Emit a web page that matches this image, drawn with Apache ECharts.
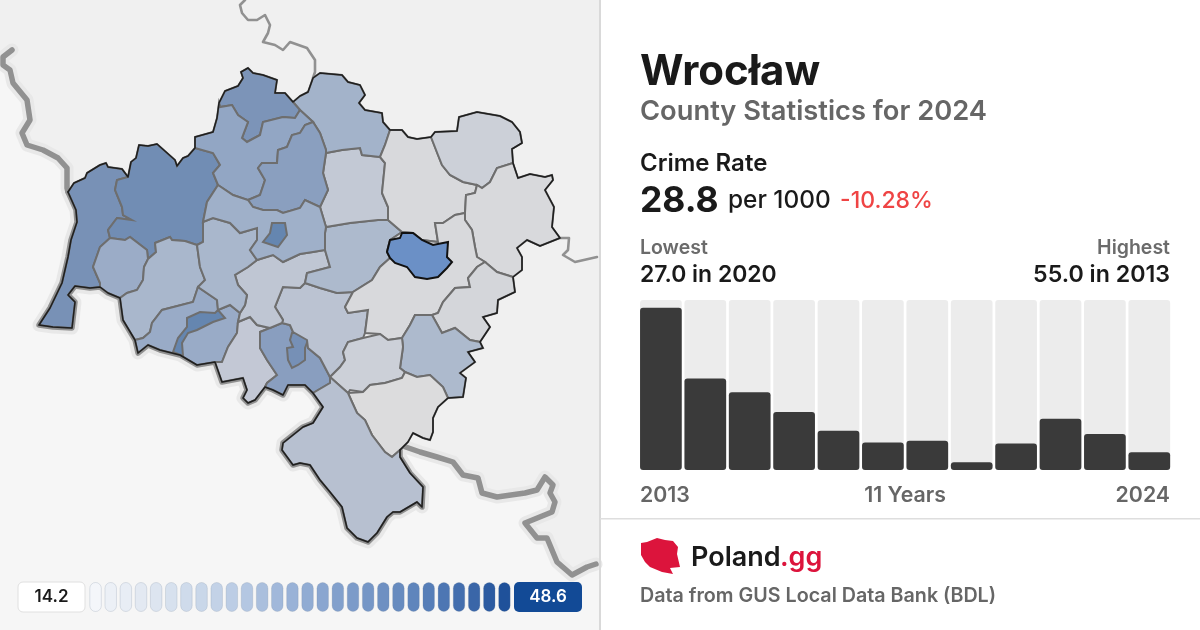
<!DOCTYPE html>
<html>
<head>
<meta charset="utf-8">
<style>
html,body{margin:0;padding:0;background:#fff;}
#main{width:1200px;height:630px;}
</style>
<script src="https://cdn.jsdelivr.net/npm/echarts@6/dist/echarts.min.js"></script>
</head>
<body>
<div id="main"></div>
<script>
var FONT = 'Inter, "Noto Sans", sans-serif';

// yearly crime rate
var years = ['2013','2014','2015','2016','2017','2018','2019','2020','2021','2022','2023','2024'];
var crimeRate = [55.0,42.2,39.7,36.1,32.7,30.6,30.9,27.0,30.4,34.9,32.1,28.8];

// legend ramp
var legendMin = 14.2;
var legendMax = 48.6;
var chipColors = ['#f4f6fa','#ecf0f6','#e8edf5','#e3e9f2','#dde5f0','#d7e1ee','#cfdbeb','#c9d7e9','#c3d2e7','#bccde5','#b4c7e2','#aabfdd','#a1b8da','#99b2d7','#91acd3','#8aa6d0','#82a0cc','#7c9bc9','#7596c6','#6e90c2','#678bbf','#5f85bc','#567eb8','#4d76b3','#436eae','#3a66a8','#2c5ba1','#1f519a'];
var mapRamp = ['#dcdcdd','#d4d6da','#c4c9d5','#adbacd','#96a9c6','#7d94b8','#6485b0'];

// counties, enclaves come after the county around them
var countyNames = ['Zgorzelecki','Bolesławiecki','Lubański','Lwówecki','Karkonoski','Jelenia Góra','Kamiennogórski','Wałbrzyski','Wałbrzych','Świdnicki','Jaworski','Złotoryjski','Średzki','Wołowski','Górowski','Głogowski','Polkowicki','Lubiński','Legnicki','Legnica','Trzebnicki','Milicki','Oleśnicki','Wrocławski','Oławski','Strzeliński','Dzierżoniowski','Ząbkowicki','Kłodzki','Wrocław'];
var countyValues = [44,45.6,36,32.5,36.5,48.4,26,40.2,44.5,28,27,32.5,31.4,25.8,33.8,43,38,40,34.8,48.4,17,22.8,17,17,20,31.4,22.8,14.2,29,28.8];
var countyShapes = [
	[[68,192],[74,183],[85,178],[87,173],[100,165],[106,163],[108,167],[122,169],[128,177],[117,180],[115,190],[122,207],[123,215],[132,220],[117,218],[108,230],[110,238],[100,247],[93,267],[100,283],[100,287],[90,288],[75,286],[68,295],[75,302],[72,328],[53,327],[39,325],[50,308],[62,283],[68,257],[71,240],[77,222],[76,210]],
	[[128,177],[131,162],[136,158],[139,145],[148,146],[157,144],[175,160],[177,166],[183,158],[188,156],[195,148],[213,153],[220,165],[213,173],[218,185],[207,202],[203,222],[203,242],[197,245],[185,241],[172,240],[170,237],[155,243],[156,252],[148,259],[147,250],[130,237],[125,240],[110,238],[108,230],[117,218],[132,220],[123,215],[122,207],[115,190],[117,180]],
	[[110,238],[125,240],[130,237],[147,250],[148,259],[144,267],[143,280],[137,290],[127,293],[120,298],[108,293],[100,287],[100,283],[93,267],[100,247]],
	[[148,259],[156,252],[155,243],[170,237],[172,240],[185,241],[197,245],[200,267],[205,280],[198,287],[193,302],[162,310],[152,323],[150,332],[143,338],[135,340],[123,320],[120,298],[127,293],[137,290],[143,280],[144,267]],
	[[135,340],[143,338],[150,332],[152,323],[162,310],[193,302],[198,287],[217,300],[218,310],[230,305],[240,313],[238,322],[237,333],[228,347],[222,362],[215,362],[197,365],[180,355],[160,350],[148,345],[138,353]],
	[[173,352],[178,338],[187,327],[187,318],[200,312],[215,313],[218,310],[225,318],[213,322],[207,325],[197,330],[188,333],[182,343],[183,356]],
	[[222,362],[228,347],[237,333],[238,322],[250,317],[257,325],[270,328],[260,332],[260,348],[267,360],[277,375],[267,383],[265,387],[255,400],[248,403],[243,398],[247,390],[243,378],[222,382],[215,362]],
	[[260,332],[270,328],[282,323],[290,325],[293,332],[307,340],[308,348],[320,358],[330,377],[330,383],[313,393],[305,385],[288,385],[283,395],[273,390],[265,387],[267,383],[277,375],[267,360],[260,348]],
	[[292,333],[303,333],[308,340],[305,348],[305,360],[298,365],[292,368],[288,360],[287,348],[293,347],[290,340]],
	[[283,287],[300,288],[305,283],[320,288],[337,293],[353,292],[345,307],[348,313],[368,310],[365,333],[363,338],[348,342],[343,352],[345,360],[340,367],[330,377],[320,358],[308,348],[307,340],[293,332],[290,325],[282,323],[283,320],[275,307]],
	[[240,313],[245,305],[247,295],[238,285],[235,275],[248,267],[257,260],[273,255],[283,262],[300,254],[313,252],[325,250],[330,267],[307,273],[305,283],[300,288],[283,287],[275,307],[283,320],[282,323],[270,328],[257,325],[250,317],[238,322]],
	[[197,245],[203,242],[203,222],[213,218],[230,223],[240,233],[257,228],[257,240],[250,250],[257,260],[248,267],[235,275],[238,285],[247,295],[245,305],[240,313],[230,305],[218,310],[217,300],[198,287],[205,280],[200,267]],
	[[326,227],[350,223],[378,220],[388,220],[402,232],[390,240],[387,252],[390,258],[380,267],[372,280],[353,292],[337,293],[320,288],[305,283],[307,273],[330,267],[325,250],[325,233]],
	[[326,153],[342,150],[360,148],[362,155],[380,157],[385,163],[382,193],[388,207],[388,220],[378,220],[350,223],[326,227],[320,207],[328,190],[323,173]],
	[[293,102],[300,96],[308,92],[313,78],[320,73],[342,75],[348,82],[360,85],[365,95],[359,103],[365,110],[382,113],[383,122],[390,130],[385,145],[380,157],[362,155],[360,148],[342,150],[326,153],[326,150],[320,133],[313,122],[300,110]],
	[[219,103],[225,91],[238,86],[243,78],[241,72],[248,68],[253,73],[263,75],[277,80],[275,93],[285,93],[293,102],[300,110],[295,118],[283,117],[263,122],[260,135],[247,142],[242,138],[248,122],[238,115],[232,105],[220,107]],
	[[195,148],[195,137],[213,132],[217,118],[219,103],[220,107],[232,105],[238,115],[248,122],[242,138],[247,142],[260,135],[263,122],[283,117],[295,118],[300,110],[313,122],[305,125],[300,133],[292,135],[287,147],[278,150],[277,163],[262,163],[258,168],[265,180],[260,195],[248,200],[233,195],[218,185],[213,173],[220,165],[213,153]],
	[[248,200],[260,195],[265,180],[258,168],[262,163],[277,163],[278,150],[287,147],[292,135],[300,133],[305,125],[313,122],[320,133],[326,150],[326,153],[323,173],[328,190],[320,207],[305,200],[300,208],[283,213],[277,210],[263,210],[253,207]],
	[[218,185],[233,195],[248,200],[253,207],[263,210],[277,210],[283,213],[300,208],[305,200],[320,207],[326,227],[325,233],[325,250],[313,252],[300,254],[283,262],[273,255],[257,260],[250,250],[257,240],[257,228],[240,233],[230,223],[213,218],[203,222],[207,202]],
	[[272,223],[285,223],[287,235],[278,247],[263,242],[270,233]],
	[[390,130],[402,130],[408,137],[417,139],[431,137],[438,155],[442,165],[450,175],[463,182],[477,185],[475,193],[466,195],[465,213],[455,215],[443,223],[435,223],[438,242],[422,240],[413,233],[402,232],[388,220],[388,207],[382,193],[385,163],[380,157],[385,145]],
	[[431,137],[435,132],[457,131],[459,117],[477,112],[500,116],[512,122],[520,132],[522,143],[512,149],[513,163],[497,168],[490,182],[482,188],[477,185],[463,182],[450,175],[442,165],[438,155]],
	[[513,163],[518,178],[530,174],[545,177],[552,175],[553,180],[545,190],[554,207],[552,227],[560,238],[540,246],[527,240],[517,248],[522,257],[522,270],[513,277],[497,272],[485,262],[477,257],[475,247],[472,230],[465,220],[465,213],[466,195],[475,193],[477,185],[482,188],[490,182],[497,168]],
	[[402,232],[413,233],[422,240],[438,242],[435,223],[443,223],[455,215],[465,213],[465,220],[472,230],[475,247],[477,257],[485,262],[477,267],[468,278],[470,287],[455,288],[443,302],[438,313],[432,315],[415,315],[410,325],[402,338],[388,340],[380,334],[365,333],[368,310],[348,313],[345,307],[353,292],[372,280],[380,267],[390,258],[387,252],[390,240]],
	[[485,262],[497,272],[513,277],[515,292],[498,300],[497,313],[483,317],[490,327],[480,342],[470,340],[455,328],[442,333],[432,315],[438,313],[443,302],[455,288],[470,287],[468,278],[477,267]],
	[[402,338],[410,325],[415,315],[432,315],[442,333],[455,328],[470,340],[480,342],[483,348],[468,352],[475,362],[460,373],[466,378],[463,397],[448,398],[443,387],[430,375],[417,377],[405,372],[400,368],[403,347]],
	[[330,377],[340,367],[345,360],[343,352],[348,342],[363,338],[380,334],[388,340],[402,338],[403,347],[400,368],[405,372],[402,378],[385,383],[370,385],[363,392],[350,390],[348,393]],
	[[348,393],[363,392],[370,385],[385,383],[402,378],[405,372],[417,377],[430,375],[443,387],[448,398],[438,407],[433,418],[433,432],[430,440],[423,438],[413,433],[408,442],[400,450],[392,457],[385,452],[372,435],[365,420],[357,413],[352,402]],
	[[330,377],[348,393],[352,402],[357,413],[365,420],[372,435],[385,452],[392,457],[400,450],[400,457],[410,473],[423,487],[422,507],[417,502],[400,512],[393,512],[387,517],[377,533],[368,542],[357,538],[347,528],[342,507],[330,492],[320,480],[310,465],[300,463],[293,465],[282,450],[283,443],[303,427],[313,423],[323,407],[313,393],[330,383]],
	[[390,240],[400,238],[402,233],[413,233],[422,240],[433,245],[448,242],[447,257],[452,262],[447,268],[438,277],[427,279],[415,277],[407,267],[395,263],[390,258],[387,252]]
];

// region outline and the borders around it
var borderNorth = [[68,192],[74,183],[85,178],[87,173],[100,165],[106,163],[108,167],[122,169],[128,177],[131,162],[136,158],[139,145],[148,146],[157,144],[175,160],[177,166],[183,158],[188,156],[195,148],[195,137],[213,132],[217,118],[219,103],[225,91],[238,86],[243,78],[241,72],[248,68],[253,73],[263,75],[277,80],[275,93],[285,93],[293,102],[300,96],[308,92],[313,78],[320,73],[342,75],[348,82],[360,85],[365,95],[359,103],[365,110],[382,113],[383,122],[390,130],[402,130],[408,137],[417,139],[431,137],[435,132],[457,131],[459,117],[477,112],[500,116],[512,122],[520,132],[522,143],[512,149],[513,163],[518,178],[530,174],[545,177],[552,175],[553,180],[545,190],[554,207],[552,227],[560,238],[540,246],[527,240],[517,248],[522,257],[522,270],[513,277],[515,292],[498,300],[497,313],[483,317],[490,327],[480,342],[483,348],[468,352],[475,362],[460,373],[466,378],[463,397],[448,398],[438,407],[433,418],[433,432],[430,440],[423,438],[413,433],[408,442],[400,450]];
var borderSouth = [[400,450],[400,457],[410,473],[423,487],[422,507],[417,502],[400,512],[393,512],[387,517],[377,533],[368,542],[357,538],[347,528],[342,507],[330,492],[320,480],[310,465],[300,463],[293,465],[282,450],[283,443],[303,427],[313,423],[323,407],[313,393],[305,385],[288,385],[283,395],[273,390],[265,387],[255,400],[248,403],[243,398],[247,390],[243,378],[222,382],[215,362],[197,365],[180,355],[160,350],[148,345],[138,353],[135,340],[123,320],[120,298],[108,293],[100,287],[90,288],[75,286],[68,295],[75,302],[72,328],[53,327],[39,325],[50,308],[62,283],[68,257],[71,240],[77,222],[76,210],[68,192]];
var polandWest = [[12,50],[3,57],[3,65],[10,70],[13,83],[27,100],[30,120],[22,133],[27,145],[43,150],[58,158],[67,168],[67,188],[68,192]];
var polandEast = [[400,445],[420,452],[437,457],[453,462],[463,475],[478,478],[482,493],[497,497],[525,493],[537,490],[545,477],[553,485],[550,493],[555,502],[552,512],[525,523],[537,538],[547,538],[557,562],[572,575],[587,567],[596,564]];
var neighbourNorth = [[245,0],[240,5],[242,13],[248,20],[257,20],[265,15],[270,25],[268,33],[263,42],[275,45],[283,50],[290,42],[307,48],[315,60],[315,72],[313,78]];
var neighbourEast = [[560,238],[569,238],[568,250],[563,255],[575,262],[597,257]];
var polandLand = [[0,0],[600,0],[600,563]].concat(polandEast.slice().reverse(), polandWest.slice().reverse(), [[0,57]]);

var logoShape = [[641,543],[647,542],[657,538],[665,540],[673,541],[678,547],[677,554],[680,567],[670,568],[673,574],[662,572],[650,567],[645,562],[641,555]];

function toFeature(name, ring){
	return {type:'Feature', properties:{name:name}, geometry:{type:'Polygon', coordinates:[ring]}};
}
echarts.registerMap('land', {type:'FeatureCollection', features:[toFeature('land', polandLand)]});
echarts.registerMap('counties', {type:'FeatureCollection', features:countyNames.map(function(name, i){
	return toFeature(name, countyShapes[i]);
})});

// pixel coordinates, so no real projection
var flat = {project:function(p){return p;}, unproject:function(p){return p;}};
function geoLayer(mapName, z, itemStyle, regions){
	return {
		map:mapName, z:z, silent:true, roam:false, projection:flat,
		boundingCoords:[[0,0],[600,630]],
		left:0, top:0, width:600, height:630,
		itemStyle:itemStyle,
		emphasis:{disabled:true},
		regions:regions || []
	};
}
function lineLayer(paths, color, width, geoIndex, z){
	return {
		type:'lines', coordinateSystem:'geo', geoIndex:geoIndex, polyline:true, silent:true, z:z,
		lineStyle:{color:color, width:width, opacity:1, cap:'round', join:'round'},
		data:paths.map(function(p){return {coords:p};})
	};
}
function label(text, x, y, size, weight, color, align){
	return {
		type:'text', z:10, silent:true,
		style:{text:text, x:x, y:y, fill:color, align:align || 'left', verticalAlign:'middle',
			font:weight + ' ' + size + 'px ' + FONT}
	};
}

var myChart = echarts.init(document.getElementById('main'));
var option = {
	animation:false,
	backgroundColor:'#fff',
	grid:[
		{left:638.7, top:300, width:532.8, height:170},
		{left:88, top:582, width:424, height:30}
	],
	xAxis:[
		{type:'category', data:years, gridIndex:0, show:false},
		{type:'category', data:chipColors, gridIndex:1, show:false}
	],
	yAxis:[
		{type:'value', gridIndex:0, min:25.6, max:56.4, show:false},
		{type:'value', gridIndex:1, min:0, max:1, show:false}
	],
	geo:[
		geoLayer('land', 0, {areaColor:'#f0f0f0', borderWidth:0}),
		geoLayer('counties', 3, {borderColor:'#6e6e6e', borderWidth:2}, [
			{name:'Wrocław', itemStyle:{borderColor:'#111', borderWidth:2}}
		])
	],
	visualMap:{
		show:false, seriesIndex:2, min:legendMin, max:legendMax,
		inRange:{color:mapRamp}
	},
	series:[
		{
			type:'bar', xAxisIndex:0, yAxisIndex:0, data:crimeRate, barWidth:41.7, silent:true,
			itemStyle:{color:'#3a3a3a', borderRadius:3},
			showBackground:true,
			backgroundStyle:{color:'#ececec', borderRadius:3}
		},
		{
			type:'bar', xAxisIndex:1, yAxisIndex:1, barWidth:12.5, silent:true,
			data:chipColors.map(function(c){
				return {value:1, itemStyle:{color:c}};
			}),
			itemStyle:{borderRadius:6, borderColor:'rgba(120,135,160,0.22)', borderWidth:1}
		},
		{
			type:'map', geoIndex:1, silent:true,
			data:countyNames.map(function(name, i){
				var d = {name:name, value:countyValues[i]};
				// the county on this card stands out from the scale
				if(name === 'Wrocław'){
					d.visualMap = false;
					d.itemStyle = {color:'#6b90c6'};
				}
				return d;
			})
		},
		lineLayer([polandWest, polandEast, borderSouth], '#e8e8e8', 13, 0, 1),
		lineLayer([polandWest, polandEast, borderSouth], '#919191', 5.5, 0, 2),
		lineLayer([neighbourNorth, neighbourEast], '#919191', 2.6, 0, 2),
		lineLayer([borderNorth, borderSouth], '#1f1f1f', 1.5, 1, 4)
	],
	graphic:[
		{type:'rect', z:-1, silent:true, shape:{x:0, y:0, width:600, height:630}, style:{fill:'#f6f6f6'}},
		{type:'rect', z:9, silent:true, shape:{x:599, y:0, width:2, height:630}, style:{fill:'#d9d9d9'}},
		{type:'rect', z:9, silent:true, shape:{x:600, y:518, width:600, height:1.5}, style:{fill:'#dedede'}},
		label('Wrocław', 640, 72, 42, 700, '#1a1a1a'),
		label('County Statistics for 2024', 640, 112, 27.3, 600, '#666666'),
		label('Crime Rate', 640, 163.5, 24, 600, '#1a1a1a'),
		label(crimeRate[11].toFixed(1), 640, 201, 35.5, 700, '#1a1a1a'),
		label('per 1000', 728, 201, 24.4, 500, '#1a1a1a'),
		label('-10.28%', 840, 201, 23, 500, '#ef4444'),
		label('Lowest', 640, 248.5, 19.5, 600, '#6b6b6b'),
		label('27.0 in 2020', 640, 275, 22.9, 600, '#1a1a1a'),
		label('Highest', 1170, 248.5, 19.5, 600, '#6b6b6b', 'right'),
		label('55.0 in 2013', 1170, 275, 23.2, 600, '#1a1a1a', 'right'),
		label(years[0], 640, 496, 21.3, 600, '#666666'),
		label('11 Years', 905, 496, 21.3, 600, '#666666', 'center'),
		label(years[11], 1170, 496, 21.3, 600, '#666666', 'right'),
		{type:'polygon', z:9, silent:true, shape:{points:logoShape}, style:{fill:'#dc143c'}},
		label('Poland', 691, 558, 27, 600, '#1a1a1a'),
		label('.gg', 780, 558, 27, 600, '#dc143c'),
		label('Data from GUS Local Data Bank (BDL)', 640, 596, 19.7, 600, '#666666'),
		{type:'rect', z:9, silent:true, shape:{x:18, y:582, width:67, height:30, r:5}, style:{fill:'#ffffff', stroke:'#e0e0e0', lineWidth:1}},
		label(legendMin.toFixed(1), 51.5, 597, 17, 600, '#1a1a1a', 'center'),
		{type:'rect', z:9, silent:true, shape:{x:514, y:582, width:68, height:30, r:5}, style:{fill:'#124a96'}},
		label(legendMax.toFixed(1), 548, 597, 17, 600, '#ffffff', 'center')
	]
};
myChart.setOption(option, true);
</script>
</body>
</html>
